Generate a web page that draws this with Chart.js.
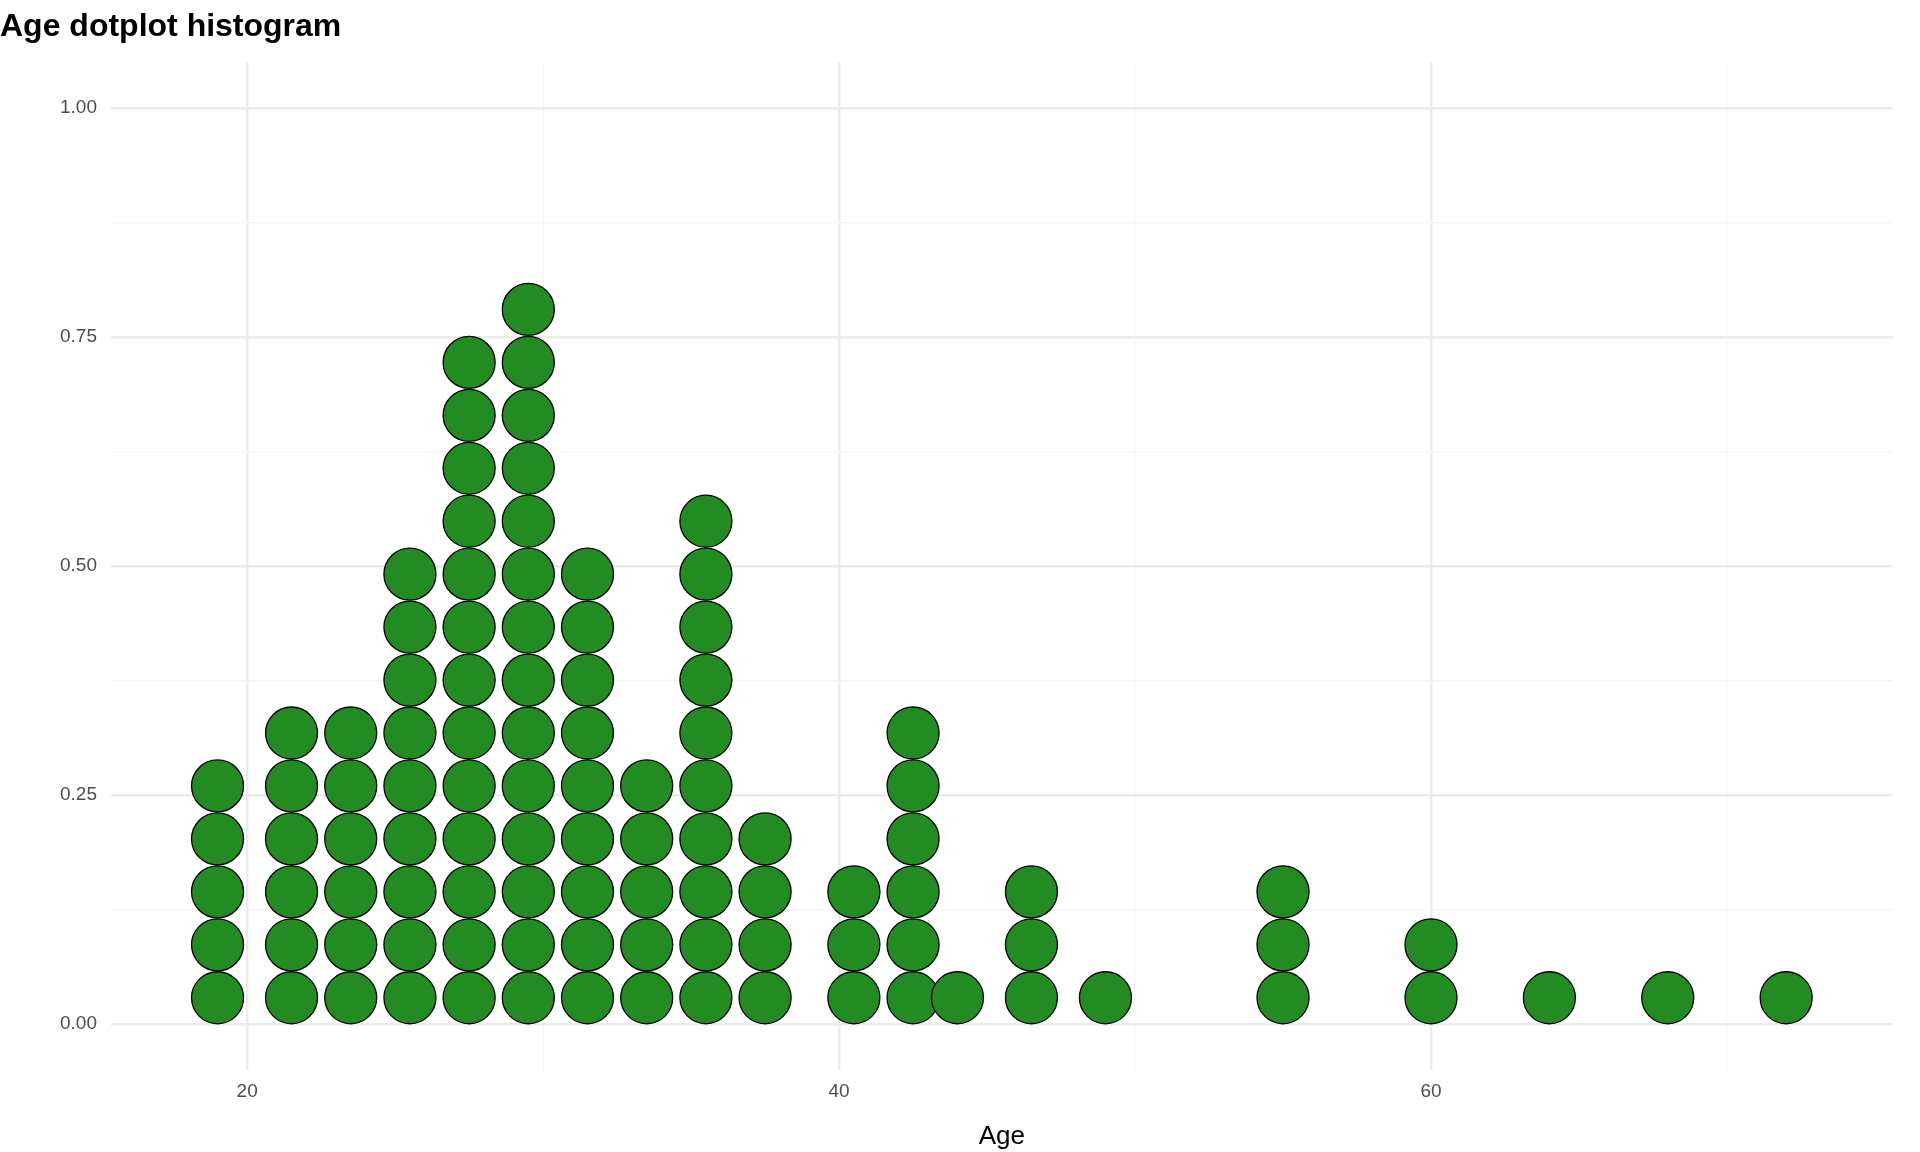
<!DOCTYPE html>
<html>
<head>
<meta charset="utf-8">
<script src="https://cdn.jsdelivr.net/npm/chart.js@4"></script>
<style>
  html, body { margin: 0; padding: 0; background: #fff; }
  #wrap { width: 1920px; height: 1152px; }
</style>
</head>
<body>
<div id="wrap"><canvas id="c" width="1920" height="1152"></canvas></div>
<script>
// bin centres (age) and number of dots stacked in each bin
var binAges = [19, 21.5, 23.5, 25.5, 27.5, 29.5, 31.5, 33.5, 35.5, 37.5, 40.5, 42.5, 44, 46.5, 49, 55, 60, 64, 68, 72];
var binCounts = [5, 6, 6, 9, 13, 14, 9, 5, 10, 4, 3, 6, 1, 3, 1, 3, 2, 1, 1, 1];
var dotStep = 0.0578;
var xTicks = [20, 30, 40, 50, 60, 70];
var xLabels = [20, 40, 60];
var yTicks = [0, 0.125, 0.25, 0.375, 0.5, 0.625, 0.75, 0.875, 1];
var yLabels = [0, 0.25, 0.5, 0.75, 1];

var points = [];
binAges.forEach(function (age, i) {
  for (var k = 0; k < binCounts[i]; k++) {
    points.push({ x: age, y: (k + 0.5) * dotStep });
  }
});

var font = "'Liberation Sans', Arial, sans-serif";

new Chart(document.getElementById('c'), {
  type: 'scatter',
  data: {
    datasets: [{
      data: points,
      pointRadius: 26,
      pointHoverRadius: 26,
      backgroundColor: '#228B22',
      borderColor: '#000',
      borderWidth: 1.3
    }]
  },
  options: {
    responsive: false,
    animation: false,
    layout: { padding: { left: 0, right: 7, top: 0, bottom: 0 } },
    plugins: {
      legend: { display: false },
      tooltip: { enabled: false },
      title: {
        display: true,
        text: 'Age dotplot histogram',
        align: 'start',
        color: '#000',
        font: { family: font, size: 32 },
        padding: { top: 8, bottom: 16 }
      }
    },
    scales: {
      x: {
        type: 'linear',
        min: 15.4,
        max: 75.6,
        afterBuildTicks: function (s) { s.ticks = xTicks.map(function (v) { return { value: v }; }); },
        afterFit: function (s) { s.height = 82; },
        border: { display: false },
        grid: {
          color: function (ctx) { return xLabels.indexOf(ctx.tick && ctx.tick.value) >= 0 ? '#ebebeb' : '#f4f4f4'; },
          lineWidth: function (ctx) { return xLabels.indexOf(ctx.tick && ctx.tick.value) >= 0 ? 2.4 : 1.2; },
          drawTicks: false
        },
        ticks: {
          color: '#4d4d4d',
          padding: 10,
          font: { family: font, size: 19 },
          callback: function (v) { return xLabels.indexOf(v) >= 0 ? String(v) : ''; }
        },
        title: {
          display: true,
          text: 'Age',
          color: '#000',
          font: { family: font, size: 26 },
          padding: { top: 2, bottom: 0 }
        }
      },
      y: {
        type: 'linear',
        min: -0.05,
        max: 1.05,
        afterBuildTicks: function (s) { s.ticks = yTicks.map(function (v) { return { value: v }; }); },
        afterFit: function (s) { s.width = 111; },
        border: { display: false },
        grid: {
          color: function (ctx) { return yLabels.indexOf(ctx.tick && ctx.tick.value) >= 0 ? '#ebebeb' : '#f4f4f4'; },
          lineWidth: function (ctx) { return yLabels.indexOf(ctx.tick && ctx.tick.value) >= 0 ? 2.4 : 1.2; },
          drawTicks: false
        },
        ticks: {
          color: '#4d4d4d',
          padding: 14,
          font: { family: font, size: 19 },
          callback: function (v) { return yLabels.indexOf(v) >= 0 ? v.toFixed(2) : ''; }
        }
      }
    }
  }
});
</script>
</body>
</html>
